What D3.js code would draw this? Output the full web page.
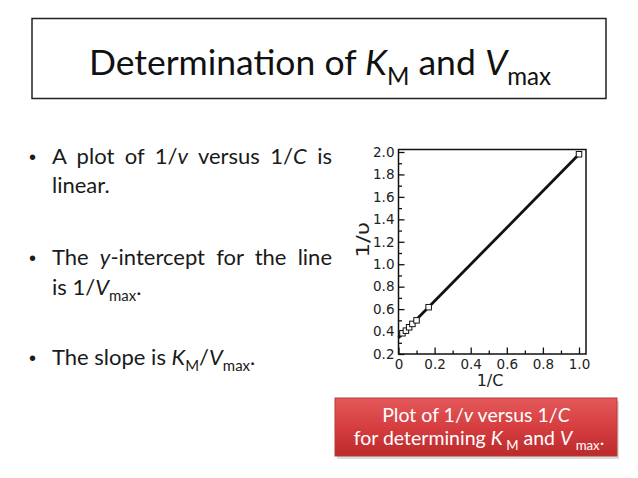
<!DOCTYPE html>
<html>
<head>
<meta charset="utf-8">
<script src="https://cdn.jsdelivr.net/npm/d3@7.9.0/dist/d3.min.js"></script>
<style>
  body { margin: 0; background: #fff; }
  svg { display: block; }
</style>
</head>
<body>
<svg id="slide" width="638" height="478"></svg>
<script>
// Lineweaver-Burk data
const invC = [0.022, 0.041, 0.059, 0.077, 0.1, 0.167, 1.0];
const invV = [0.385, 0.408, 0.438, 0.468, 0.5, 0.617, 1.98];
const fitC = [0, 1.0];
const fitV = [0.345, 1.98];

const xMajor = [0, 0.2, 0.4, 0.6, 0.8, 1.0];
const xMinor = [0.1, 0.3, 0.5, 0.7, 0.9];
const xTickLabels = ['0', '0.2', '0.4', '0.6', '0.8', '1.0'];
const yMajor = [0.2, 0.4, 0.6, 0.8, 1.0, 1.2, 1.4, 1.6, 1.8, 2.0];
const yMinor = [0.3, 0.5, 0.7, 0.9, 1.1, 1.3, 1.5, 1.7, 1.9];
const yTickLabels = ['0.2', '0.4', '0.6', '0.8', '1.0', '1.2', '1.4', '1.6', '1.8', '2.0'];

const svg = d3.select('#slide');
svg.append('rect').attr('width', 638).attr('height', 478).attr('fill', '#fff');

const textFont = 'Lato, "Open Sans", sans-serif';

// writes a line made of parts: {t, i (italic), sub (subscript)}
function rich(parent, x, y, parts, size, anchor) {
  const t = parent.append('text')
    .attr('x', x).attr('y', y)
    .attr('text-anchor', anchor || 'start')
    .style('font-family', textFont)
    .style('font-size', size + 'px');
  let shift = 0;
  parts.forEach(p => {
    const s = t.append('tspan').text(p.t);
    if (p.i) s.style('font-style', 'italic');
    const want = p.sub ? size * 0.28 : 0;
    if (want !== shift) { s.attr('dy', want - shift); shift = want; }
    if (p.sub) s.style('font-size', (size * 0.68) + 'px');
  });
  return t;
}

// stretch the spaces so the line fills the given width
function justify(t, width) {
  const w = t.node().getComputedTextLength();
  const spaces = (t.text().match(/ /g) || []).length;
  if (spaces) t.style('word-spacing', ((width - w) / spaces) + 'px');
}

// ---- title box
svg.append('rect')
  .attr('x', 32).attr('y', 18.5).attr('width', 574).attr('height', 80)
  .attr('fill', '#fff').attr('stroke', '#222').attr('stroke-width', 1.5);

rich(svg, 320, 75, [
  { t: 'Determination of ' }, { t: 'K', i: true }, { t: 'M', sub: true },
  { t: ' and ' }, { t: 'V', i: true }, { t: 'max', sub: true }
], 35.5, 'middle').attr('fill', '#111');

// ---- bullets
const bullets = svg.append('g').attr('fill', '#1a1a1a');
[164, 265, 365].forEach(by => {
  bullets.append('text').attr('x', 29).attr('y', by)
    .style('font-family', 'Arial, sans-serif').style('font-size', '20px').text('•');
});

const l1 = rich(bullets, 52, 164, [
  { t: 'A plot of 1/' }, { t: 'v', i: true }, { t: ' versus 1/' }, { t: 'C', i: true }, { t: ' is' }
], 22);
justify(l1, 280);
rich(bullets, 52, 193, [{ t: 'linear.' }], 22);

const l3 = rich(bullets, 52, 265, [
  { t: 'The ' }, { t: 'y', i: true }, { t: '-intercept for the line' }
], 22);
justify(l3, 280);
rich(bullets, 52, 295, [
  { t: 'is 1/' }, { t: 'V', i: true }, { t: 'max', sub: true }, { t: '.' }
], 22);

rich(bullets, 52, 365, [
  { t: 'The slope is ' }, { t: 'K', i: true }, { t: 'M', sub: true }, { t: '/' },
  { t: 'V', i: true }, { t: 'max', sub: true }, { t: '.' }
], 22);

// ---- plot
const x = d3.scaleLinear().domain([0, 1.0]).range([398.5, 579]);
const y = d3.scaleLinear().domain([0.2, 2.0]).range([354, 152]);
const plotLeft = x(0), plotRight = 586, plotBottom = y(0.2), plotTop = 149.5;

const plot = svg.append('g');
const tickFont = '"DejaVu Sans", Verdana, sans-serif';

plot.append('rect')
  .attr('x', plotLeft).attr('y', plotTop)
  .attr('width', plotRight - plotLeft).attr('height', plotBottom - plotTop)
  .attr('fill', 'none').attr('stroke', '#111').attr('stroke-width', 1.5);

function styleAxis(g) {
  g.select('.domain').remove();
  g.selectAll('.tick line').attr('stroke', '#111').attr('stroke-width', 1.3);
  g.selectAll('.tick text')
    .attr('fill', '#222')
    .style('font-family', tickFont)
    .style('font-size', '13.5px');
}

plot.append('g').attr('transform', `translate(0,${plotBottom})`)
  .call(d3.axisBottom(x).tickValues(xMajor).tickSize(-6.5).tickPadding(5.5)
    .tickFormat((d, i) => xTickLabels[i]))
  .call(styleAxis);
plot.append('g').attr('transform', `translate(0,${plotBottom})`)
  .call(d3.axisBottom(x).tickValues(xMinor).tickSize(-3.5).tickFormat(''))
  .call(styleAxis);

plot.append('g').attr('transform', `translate(${plotLeft},0)`)
  .call(d3.axisLeft(y).tickValues(yMajor).tickSize(-6).tickPadding(4)
    .tickFormat((d, i) => yTickLabels[i]))
  .call(styleAxis);
plot.append('g').attr('transform', `translate(${plotLeft},0)`)
  .call(d3.axisLeft(y).tickValues(yMinor).tickSize(-3.5).tickFormat(''))
  .call(styleAxis);

// axis titles
plot.append('text')
  .attr('x', 490).attr('y', 386)
  .attr('text-anchor', 'middle')
  .attr('fill', '#222')
  .style('font-family', tickFont).style('font-size', '16px')
  .text('1/C');

plot.append('text')
  .attr('transform', `translate(369,${(plotTop + plotBottom) / 2 - 12}) rotate(-90)`)
  .attr('text-anchor', 'middle')
  .attr('fill', '#222')
  .attr('textLength', 36).attr('lengthAdjust', 'spacingAndGlyphs')
  .style('font-family', tickFont).style('font-size', '18px')
  .text('1/υ');

// fitted line
const line = d3.line().x(d => x(d[0])).y(d => y(d[1]));
plot.append('path')
  .datum(fitC.map((c, i) => [c, fitV[i]]))
  .attr('fill', 'none').attr('stroke', '#111').attr('stroke-width', 2.8)
  .attr('d', line);

// data squares
const sq = 5.5;
plot.selectAll('rect.pt')
  .data(invC.map((c, i) => [c, invV[i]]))
  .join('rect')
  .attr('class', 'pt')
  .attr('x', d => x(d[0]) - sq / 2).attr('y', d => y(d[1]) - sq / 2)
  .attr('width', sq).attr('height', sq)
  .attr('fill', '#fff').attr('stroke', '#111').attr('stroke-width', 1);

// ---- red caption box
const defs = svg.append('defs');
const grad = defs.append('linearGradient').attr('id', 'redFill')
  .attr('x1', 0).attr('y1', 0).attr('x2', 0).attr('y2', 1);
grad.append('stop').attr('offset', '0%').attr('stop-color', '#e4595b');
grad.append('stop').attr('offset', '50%').attr('stop-color', '#d63e40');
grad.append('stop').attr('offset', '100%').attr('stop-color', '#bb2a2c');

svg.append('rect')
  .attr('x', 337).attr('y', 401).attr('width', 282).attr('height', 58)
  .attr('fill', '#999').attr('opacity', 0.35);
svg.append('rect')
  .attr('x', 335).attr('y', 398).attr('width', 282).attr('height', 58)
  .attr('fill', 'url(#redFill)').attr('stroke', '#b63a3a').attr('stroke-width', 1);

const cap = svg.append('g').attr('fill', '#fff');
rich(cap, 476, 422, [
  { t: 'Plot of 1/' }, { t: 'v', i: true }, { t: ' versus 1/' }, { t: 'C', i: true }
], 19.5, 'middle');
rich(cap, 479, 445, [
  { t: 'for determining ' }, { t: 'K', i: true }, { t: ' M', sub: true },
  { t: ' and ' }, { t: 'V', i: true }, { t: ' max', sub: true }, { t: '.' }
], 19.5, 'middle');
</script>
</body>
</html>
